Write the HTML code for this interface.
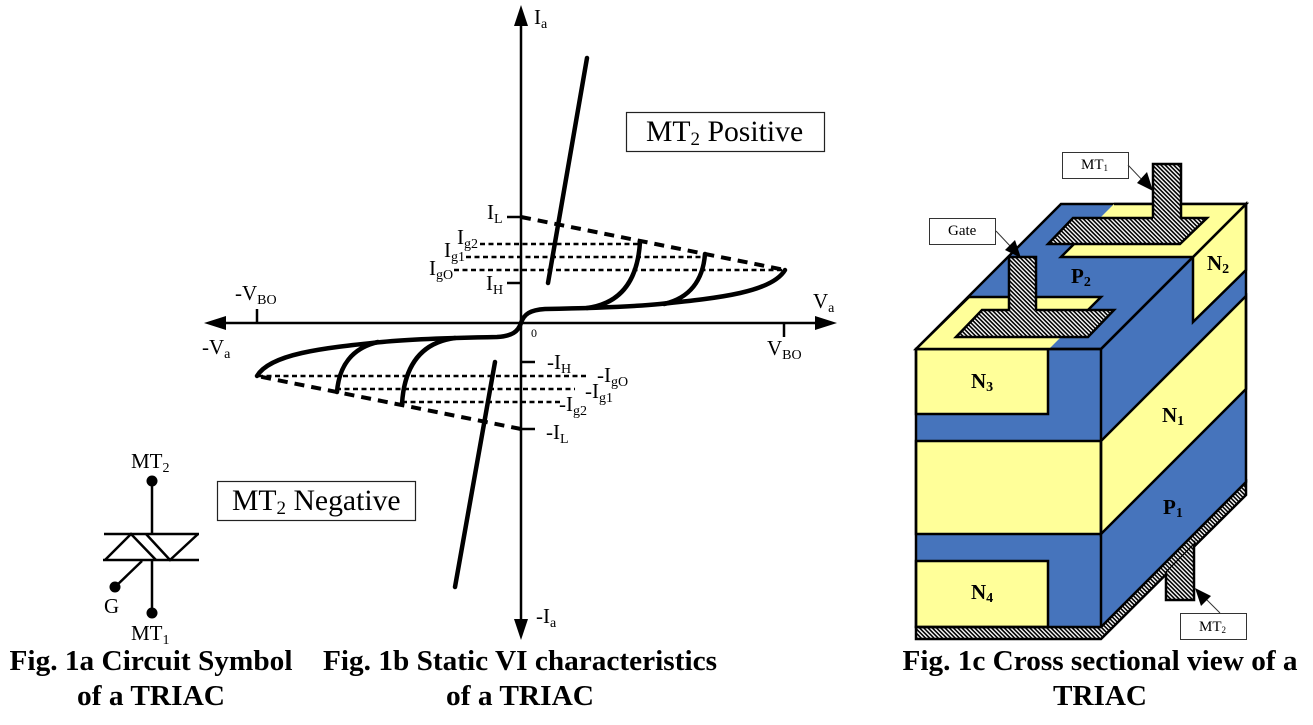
<!DOCTYPE html>
<html><head><meta charset="utf-8"><style>
html,body{margin:0;padding:0;background:#fff}
svg{display:block}
text{font-family:"Liberation Serif",serif;fill:#000}
.cap{font-weight:bold;font-size:29px}
.l{font-size:21px}
.s{font-size:14px}
.n{font-weight:bold;font-size:21px}
.ns{font-size:14px}
</style></head><body>
<svg width="1313" height="725" viewBox="0 0 1313 725" xmlns="http://www.w3.org/2000/svg">
<defs>
<pattern id="h" width="3" height="3" patternUnits="userSpaceOnUse" patternTransform="rotate(45)">
<rect width="3" height="3" fill="#fff"/><rect width="3" height="1.6" fill="#000"/>
</pattern>
</defs>

<!-- Graph axes -->
<g stroke="#000" stroke-width="2.5" fill="none">
<line x1="521" y1="20" x2="521" y2="625"/>
<line x1="220" y1="323" x2="820" y2="323"/>
<line x1="507" y1="217" x2="521" y2="217"/>
<line x1="507" y1="283" x2="521" y2="283"/>
<line x1="521" y1="362" x2="535" y2="362"/>
<line x1="521" y1="429" x2="535" y2="429"/>
<line x1="784" y1="323" x2="784" y2="337"/>
<line x1="257" y1="309" x2="257" y2="323"/>
</g>
<polygon points="521,5 514,26 528,26" fill="#000"/>
<polygon points="521,640 514,619 528,619" fill="#000"/>
<polygon points="204,323 226,316 226,330" fill="#000"/>
<polygon points="837,323 815,316 815,330" fill="#000"/>

<!-- Dashed levels -->
<g stroke="#000" fill="none">
<g stroke-width="2.5" stroke-dasharray="5 3.5">
<line x1="480" y1="244" x2="640" y2="244"/>
<line x1="466" y1="257" x2="705" y2="257"/>
<line x1="454" y1="270" x2="783" y2="270"/>
<line x1="258" y1="376" x2="588" y2="376"/>
<line x1="336" y1="389" x2="575" y2="389"/>
<line x1="402" y1="402" x2="562" y2="402"/>
</g>
<g stroke-width="4" stroke-dasharray="10 7">
<line x1="521" y1="217" x2="785" y2="270"/>
<line x1="521" y1="429" x2="257" y2="376"/>
</g>
<!-- Curves -->
<g stroke-width="4.5" stroke-linecap="round">
<line x1="548" y1="283" x2="587" y2="58"/>
<line x1="455" y1="587" x2="495" y2="362"/>
<path d="M521 323C524 314 530 310 545 309C600 308 640 306 660 304C720 298 772 292 785 270"/>
<path d="M640 242C638 275 625 303 587 308"/>
<path d="M705 254C703 280 690 298 664 304"/>
<path d="M521 323C518 332 512 336 497 337C442 338 402 340 382 342C322 348 270 354 257 376"/>
<path d="M402 404C404 371 417 343 455 338"/>
<path d="M337 392C339 366 352 348 378 342"/>
</g>
</g>

<!-- Graph labels -->
<text class="l" x="534" y="24">I<tspan class="s" dy="4">a</tspan></text>
<text class="l" x="813" y="308">V<tspan class="s" dy="4">a</tspan></text>
<text class="l" x="202" y="354">-V<tspan class="s" dy="4">a</tspan></text>
<text class="l" x="536" y="623">-I<tspan class="s" dy="4">a</tspan></text>
<text class="l" x="235" y="300">-V<tspan class="s" dy="4">BO</tspan></text>
<text class="l" x="767" y="355">V<tspan class="s" dy="4">BO</tspan></text>
<text class="l" x="487" y="219">I<tspan class="s" dy="4">L</tspan></text>
<text class="l" x="457" y="244">I<tspan class="s" dy="4">g2</tspan></text>
<text class="l" x="444" y="257">I<tspan class="s" dy="4">g1</tspan></text>
<text class="l" x="429" y="275">I<tspan class="s" dy="4">gO</tspan></text>
<text class="l" x="486" y="290">I<tspan class="s" dy="4">H</tspan></text>
<text x="531" y="337" font-size="12">0</text>
<text class="l" x="547" y="369">-I<tspan class="s" dy="4">H</tspan></text>
<text class="l" x="597" y="382">-I<tspan class="s" dy="4">gO</tspan></text>
<text class="l" x="585" y="398">-I<tspan class="s" dy="4">g1</tspan></text>
<text class="l" x="559" y="411">-I<tspan class="s" dy="4">g2</tspan></text>
<text class="l" x="546" y="439">-I<tspan class="s" dy="4">L</tspan></text>

<!-- Boxes -->
<rect x="626.5" y="112.5" width="198" height="39" fill="#fff" stroke="#222" stroke-width="1.2"/>
<text x="646" y="141" font-size="29.7">MT<tspan font-size="19" dy="4">2</tspan><tspan dy="-4"> Positive</tspan></text>
<rect x="217.5" y="481.5" width="198" height="39" fill="#fff" stroke="#222" stroke-width="1.2"/>
<text x="232" y="510" font-size="29.7">MT<tspan font-size="19" dy="4">2</tspan><tspan dy="-4"> Negative</tspan></text>

<!-- Symbol -->
<g stroke="#000" stroke-width="2.5" fill="none">
<line x1="152" y1="481" x2="152" y2="534"/>
<line x1="104" y1="534" x2="199" y2="534"/>
<line x1="103" y1="560" x2="199" y2="560"/>
<polyline points="105,560 131,534 156,560"/>
<polyline points="146,534 170,560 198,534"/>
<line x1="152" y1="560" x2="152" y2="613"/>
<line x1="142" y1="561" x2="115" y2="587"/>
</g>
<circle cx="152" cy="481" r="5.5"/><circle cx="152" cy="613" r="5.5"/><circle cx="115" cy="587" r="5.5"/>
<text x="131" y="468" font-size="21">MT<tspan class="s" dy="4">2</tspan></text>
<text x="104" y="613" font-size="21">G</text>
<text x="131" y="640" font-size="21">MT<tspan class="s" dy="4">1</tspan></text>

<!-- Cross section -->
<g stroke="#000" stroke-width="2.5" stroke-linejoin="miter">
<!-- metal -->
<polygon points="916,627 1101,627 1246,482 1246,495 1101,639 916,639" fill="url(#h)"/>
<polygon points="1166,600 1194,600 1194,543 1166,571" fill="url(#h)"/>
<polygon points="1162,575 1194,543 1194,535 1160,570" fill="url(#h)" stroke="none"/>
<!-- front -->
<rect x="916" y="349" width="185" height="278" fill="#4674bc" stroke="none"/>
<rect x="916" y="441" width="185" height="93" fill="#ffff99"/>
<polygon points="916,349 1048,349 1048,414 916,414" fill="#ffff99"/>
<polygon points="916,561 1048,561 1048,627 916,627" fill="#ffff99"/>
<!-- right -->
<polygon points="1101,349 1246,204 1246,482 1101,627" fill="#4674bc" stroke="none"/>
<polygon points="1101,441 1246,296 1246,389 1101,534" fill="#ffff99"/>
<polygon points="1193,257 1246,204 1246,270 1193,322" fill="#ffff99"/>
<!-- top -->
<polygon points="916,349 1061,204 1246,204 1101,349" fill="#4674bc"/>
<polygon points="1114,204 1246,204 1193,257 1061,257" fill="#ffff99" stroke="none"/>
<polyline points="1114,204 1246,204 1193,257 1061,257 1075,243" fill="none"/>
<polygon points="916,349 969,297 1101,297 1049,349" fill="#ffff99" stroke="none"/>
<polyline points="969,297 1101,297 1088,310" fill="none"/>
<polyline points="916,349 969,297" fill="none"/>
<polyline points="916,349 1101,349" fill="none"/>
<line x1="1101" y1="349" x2="1101" y2="627"/>
<polyline points="916,349 916,627 1101,627" fill="none"/>
<polyline points="1101,349 1193,257" fill="none"/>
<polyline points="1246,204 1246,482 1101,627" fill="none"/>
<!-- contacts -->
<polygon points="1073,218 1207,218 1180,244 1048,244" fill="url(#h)"/>
<polygon points="982,310 1114,310 1088,337 956,337" fill="url(#h)"/>
<rect x="1153" y="164" width="28" height="56" fill="url(#h)" stroke="none"/>
<rect x="1009" y="257" width="27" height="55" fill="url(#h)" stroke="none"/>
<polyline points="1153,218 1153,164 1181,164 1181,218" fill="none"/>
<polyline points="1009,310 1009,257 1036,257 1036,310" fill="none"/>
</g>
<!-- leader labels -->
<g fill="#fff" stroke="#333" stroke-width="1">
<rect x="1062.5" y="152.5" width="66" height="26"/>
<rect x="929.5" y="218.5" width="66" height="26"/>
<rect x="1180.5" y="613.5" width="66" height="26"/>
</g>
<g stroke="#333" stroke-width="1">
<line x1="1128" y1="165" x2="1145" y2="183"/>
<line x1="996" y1="231" x2="1012" y2="248"/>
<line x1="1220" y1="613" x2="1203" y2="596"/>
</g>
<polygon points="1153,191 1137,183 1147,172" fill="#000"/>
<polygon points="1021,258 1005,250 1015,240" fill="#000"/>
<polygon points="1195,588 1211,596 1201,606" fill="#000"/>
<text x="1081" y="169" font-size="15">MT<tspan font-size="9" dy="2">1</tspan></text>
<text x="948" y="235" font-size="15">Gate</text>
<text x="1199" y="631" font-size="15">MT<tspan font-size="9" dy="2">2</tspan></text>
<text class="n" x="971" y="388">N<tspan class="ns" dy="3">3</tspan></text>
<text class="n" x="971" y="599">N<tspan class="ns" dy="3">4</tspan></text>
<text class="n" x="1207" y="270">N<tspan class="ns" dy="3">2</tspan></text>
<text class="n" x="1162" y="422">N<tspan class="ns" dy="3">1</tspan></text>
<text class="n" x="1071" y="283">P<tspan class="ns" dy="3">2</tspan></text>
<text class="n" x="1163" y="514">P<tspan class="ns" dy="3">1</tspan></text>

<!-- Captions -->
<text class="cap" x="151" y="670" text-anchor="middle" textLength="283" lengthAdjust="spacingAndGlyphs">Fig. 1a Circuit Symbol</text>
<text class="cap" x="151" y="705" text-anchor="middle" textLength="148" lengthAdjust="spacingAndGlyphs">of a TRIAC</text>
<text class="cap" x="520" y="670" text-anchor="middle" textLength="394" lengthAdjust="spacingAndGlyphs">Fig. 1b Static VI characteristics</text>
<text class="cap" x="520" y="705" text-anchor="middle" textLength="148" lengthAdjust="spacingAndGlyphs">of a TRIAC</text>
<text class="cap" x="1100" y="670" text-anchor="middle" textLength="395" lengthAdjust="spacingAndGlyphs">Fig. 1c Cross sectional view of a</text>
<text class="cap" x="1100" y="705" text-anchor="middle" textLength="94" lengthAdjust="spacingAndGlyphs">TRIAC</text>
</svg>
</body></html>
